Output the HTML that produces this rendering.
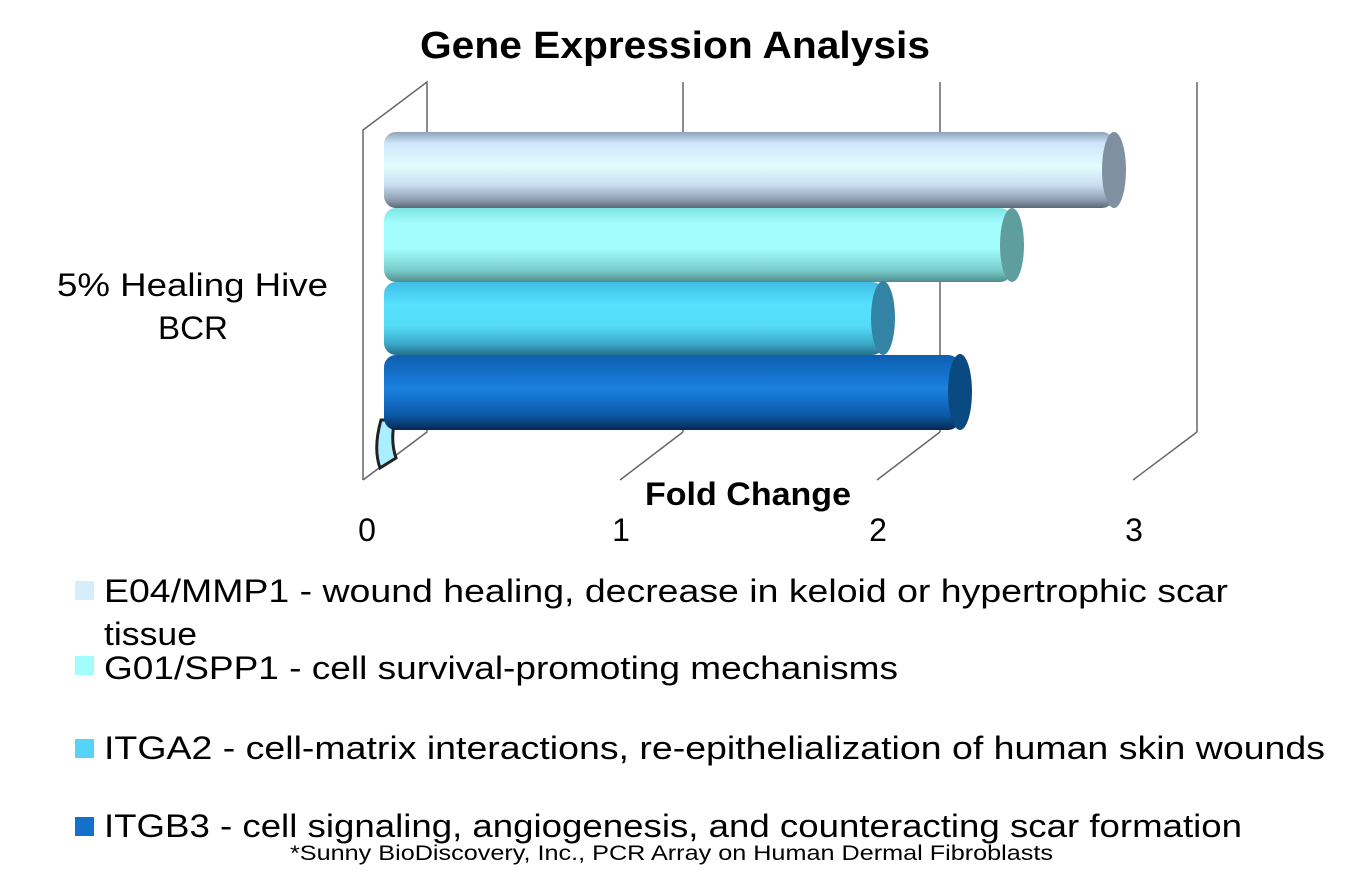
<!DOCTYPE html>
<html><head><meta charset="utf-8"><style>
body{margin:0;background:#fff;}
svg text{font-family:"Liberation Sans",sans-serif;}
</style></head><body>
<svg width="1350" height="887" viewBox="0 0 1350 887" xmlns="http://www.w3.org/2000/svg">
<defs>
<linearGradient id="g1" x1="0" y1="0" x2="0" y2="1">
<stop offset="0" stop-color="#8fa3b8"/><stop offset="0.15" stop-color="#cfe6fb"/><stop offset="0.45" stop-color="#e2fdff"/><stop offset="0.7" stop-color="#c8def2"/><stop offset="0.9" stop-color="#8b9bad"/><stop offset="1" stop-color="#5c6675"/></linearGradient>
<linearGradient id="g2" x1="0" y1="0" x2="0" y2="1">
<stop offset="0" stop-color="#7ee3e3"/><stop offset="0.2" stop-color="#a2fdfd"/><stop offset="0.55" stop-color="#a2fdfd"/><stop offset="0.85" stop-color="#78c9c9"/><stop offset="1" stop-color="#4e8c8c"/></linearGradient>
<linearGradient id="g3" x1="0" y1="0" x2="0" y2="1">
<stop offset="0" stop-color="#3fbde8"/><stop offset="0.3" stop-color="#56e0fc"/><stop offset="0.6" stop-color="#56dcf8"/><stop offset="0.85" stop-color="#3aa8c9"/><stop offset="1" stop-color="#26708a"/></linearGradient>
<linearGradient id="g4" x1="0" y1="0" x2="0" y2="1">
<stop offset="0" stop-color="#0c5fae"/><stop offset="0.45" stop-color="#1a80e0"/><stop offset="0.8" stop-color="#0c5aa8"/><stop offset="1" stop-color="#05294f"/></linearGradient>
</defs>
<text x="420" y="58" textLength="510" lengthAdjust="spacingAndGlyphs" font-size="38" font-weight="bold" fill="#000">Gene Expression Analysis</text>
<g stroke="#666" stroke-width="1.5" fill="none">
<polyline points="363,480 363,130 427,82 427,432 363,480"/>
<line x1="683" y1="82" x2="683" y2="432"/><line x1="683" y1="432" x2="620" y2="480"/>
<line x1="940" y1="82" x2="940" y2="432"/><line x1="940" y1="432" x2="877" y2="480"/>
<line x1="1197" y1="82" x2="1197" y2="432"/><line x1="1197" y1="432" x2="1133" y2="480"/>
</g>
<path d="M381,420 Q373,448 380,468 L396,458 Q390,440 395,420 Z" fill="#aef" stroke="#222" stroke-width="3"/>
<rect x="384" y="132" width="730" height="76" rx="12" fill="url(#g1)"/>
<ellipse cx="1114" cy="170" rx="12" ry="38" fill="#7f90a2"/>
<rect x="384" y="208" width="628" height="74" rx="12" fill="url(#g2)"/>
<ellipse cx="1012" cy="245" rx="12" ry="37" fill="#5e9e9e"/>
<rect x="384" y="282" width="500" height="73" rx="12" fill="url(#g3)"/>
<ellipse cx="883" cy="318" rx="12" ry="37" fill="#3283a4"/>
<rect x="384" y="355" width="576" height="75" rx="12" fill="url(#g4)"/>
<ellipse cx="960" cy="392" rx="12" ry="38" fill="#0a4a80"/>
<text x="57" y="296" textLength="271" lengthAdjust="spacingAndGlyphs" font-size="32">5% Healing Hive</text>
<text x="158" y="339" textLength="70" lengthAdjust="spacingAndGlyphs" font-size="32">BCR</text>
<text x="645" y="505" textLength="206" lengthAdjust="spacingAndGlyphs" font-size="32" font-weight="bold">Fold Change</text>
<g font-size="32" text-anchor="middle">
<text x="367" y="541">0</text><text x="621" y="541">1</text><text x="878" y="541">2</text><text x="1134" y="541">3</text>
</g>
<rect x="75" y="581" width="19" height="19" fill="#d6eefc"/>
<rect x="75" y="656" width="19" height="19" fill="#a2fdfd"/>
<rect x="75" y="739" width="19" height="19" fill="#56d4f8"/>
<rect x="75" y="817" width="19" height="19" fill="#1570cc"/>
<g font-size="32" lengthAdjust="spacingAndGlyphs">
<text x="104" y="602" textLength="1124" lengthAdjust="spacingAndGlyphs">E04/MMP1 - wound healing, decrease in keloid or hypertrophic scar</text>
<text x="104" y="645" textLength="93" lengthAdjust="spacingAndGlyphs">tissue</text>
<text x="104" y="679" textLength="794" lengthAdjust="spacingAndGlyphs">G01/SPP1 - cell survival-promoting mechanisms</text>
<text x="104" y="759" textLength="1221" lengthAdjust="spacingAndGlyphs">ITGA2 - cell-matrix interactions, re-epithelialization of human skin wounds</text>
<text x="104" y="837" textLength="1138" lengthAdjust="spacingAndGlyphs">ITGB3 - cell signaling, angiogenesis, and counteracting scar formation</text>
</g>
<text x="290" y="860" textLength="763" lengthAdjust="spacingAndGlyphs" font-size="21">*Sunny BioDiscovery, Inc., PCR Array on Human Dermal Fibroblasts</text>
</svg>
</body></html>
